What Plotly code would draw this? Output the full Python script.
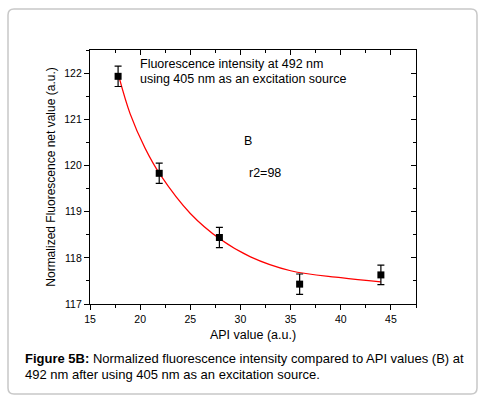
import plotly.graph_objects as go

api_x = [17.8, 21.9, 27.9, 35.9, 44.0]
fluo_y = [121.93, 119.83, 118.44, 117.43, 117.63]
fluo_err = [0.22, 0.22, 0.22, 0.22, 0.21]

# exponential fit curve
fit_x = [17.9, 19.0, 20.5, 22.0, 25.0, 28.0, 31.0, 35.0, 40.0, 44.0]
fit_y = [121.91, 121.12, 120.37, 119.80, 118.96, 118.40, 118.02, 117.72, 117.57, 117.48]

x_range = [15, 47.5]
y_range = [117, 122.5]

W, H = 483, 402
ml, mr, mt, mb = 90, 67, 50, 98
pw, ph = W - ml - mr, H - mt - mb


def px(x):
    return (x - ml) / pw


def py(y):
    return (H - mb - y) / ph


FONT = "Liberation Sans, Arial, sans-serif"

fig = go.Figure()
fig.add_trace(go.Scatter(x=fit_x, y=fit_y, mode="lines", line=dict(color="red", width=1.2, shape="spline"),
                         hoverinfo="skip"))
fig.add_trace(go.Scatter(x=api_x, y=fluo_y, mode="markers",
                         marker=dict(symbol="square", size=7, color="black"),
                         error_y=dict(type="data", array=fluo_err, color="black", thickness=1.2, width=3.5)))
# dummy trace so the top/right mirror axes get drawn
fig.add_trace(go.Scatter(x=[None], y=[None], xaxis="x2", yaxis="y2", showlegend=False))

ax = dict(showline=True, linecolor="black", linewidth=1.2, showgrid=False, zeroline=False,
          tickcolor="black", tickwidth=1, ticklen=5, tickfont=dict(family=FONT, size=10.5, color="black"))

fig.update_layout(
    width=W, height=H, margin=dict(l=ml, r=mr, t=mt, b=mb),
    plot_bgcolor="white", paper_bgcolor="white", showlegend=False,
    font=dict(family=FONT, color="black"),
    xaxis=dict(**ax, range=x_range, dtick=5, tick0=15, ticks="outside",
               minor=dict(dtick=2.5, ticklen=3, ticks="outside", tickcolor="black"),
               title=dict(text="API value (a.u.)", font=dict(size=12.5), standoff=6)),
    yaxis=dict(**ax, range=y_range, dtick=1, ticks="outside",
               minor=dict(dtick=0.5, ticklen=3, ticks="outside", tickcolor="black"),
               title=dict(text="Normalized Fluorescence net value (a.u.)", font=dict(size=12), standoff=6)),
    xaxis2=dict(**ax, range=x_range, dtick=5, tick0=15, ticks="inside", overlaying="x", side="top",
                anchor="y", showticklabels=False, matches="x",
                minor=dict(dtick=2.5, ticklen=3, ticks="inside", tickcolor="black")),
    yaxis2=dict(**ax, range=y_range, dtick=1, ticks="inside", overlaying="y", side="right",
                anchor="x", showticklabels=False, matches="y",
                minor=dict(dtick=0.5, ticklen=3, ticks="inside", tickcolor="black")),
)

ann_font = dict(family=FONT, size=12.5, color="black")
fig.add_annotation(xref="x", yref="paper", x=19.8, y=py(64), xanchor="left", yanchor="middle",
                   text="Fluorescence intensity at 492 nm", showarrow=False, font=ann_font)
fig.add_annotation(xref="x", yref="paper", x=19.8, y=py(79), xanchor="left", yanchor="middle",
                   text="using 405 nm as an excitation source", showarrow=False, font=ann_font)
fig.add_annotation(xref="paper", yref="paper", x=px(248), y=py(132), text="B", showarrow=False, font=ann_font)
fig.add_annotation(xref="paper", yref="paper", x=px(265), y=py(173), text="r2=98", showarrow=False, font=ann_font)

cap_font = dict(family=FONT, size=13, color="black")
fig.add_annotation(xref="paper", yref="paper", x=px(23), y=py(358), xanchor="left", yanchor="middle",
                   text="<b>Figure 5B:</b> Normalized fluorescence intensity compared to API values (B) at",
                   showarrow=False, font=cap_font)
fig.add_annotation(xref="paper", yref="paper", x=px(23), y=py(374), xanchor="left", yanchor="middle",
                   text="492 nm after using 405 nm as an excitation source.", showarrow=False, font=cap_font)

# rounded frame around the whole figure
x0, x1, y0, y1, r = 8, 477, 9, 394, 6
path = (f"M {px(x0 + r)} {py(y0)} L {px(x1 - r)} {py(y0)} Q {px(x1)} {py(y0)} {px(x1)} {py(y0 + r)} "
        f"L {px(x1)} {py(y1 - r)} Q {px(x1)} {py(y1)} {px(x1 - r)} {py(y1)} "
        f"L {px(x0 + r)} {py(y1)} Q {px(x0)} {py(y1)} {px(x0)} {py(y1 - r)} "
        f"L {px(x0)} {py(y0 + r)} Q {px(x0)} {py(y0)} {px(x0 + r)} {py(y0)} Z")
fig.add_shape(type="path", xref="paper", yref="paper", path=path, line=dict(color="#c8c8c8", width=1.5),
              layer="below")

# drop the browser's default body margin so the figure sits at 0,0
fig.write_html("out.html", config={"displayModeBar": False},
               post_script="document.body.style.margin='0';")
